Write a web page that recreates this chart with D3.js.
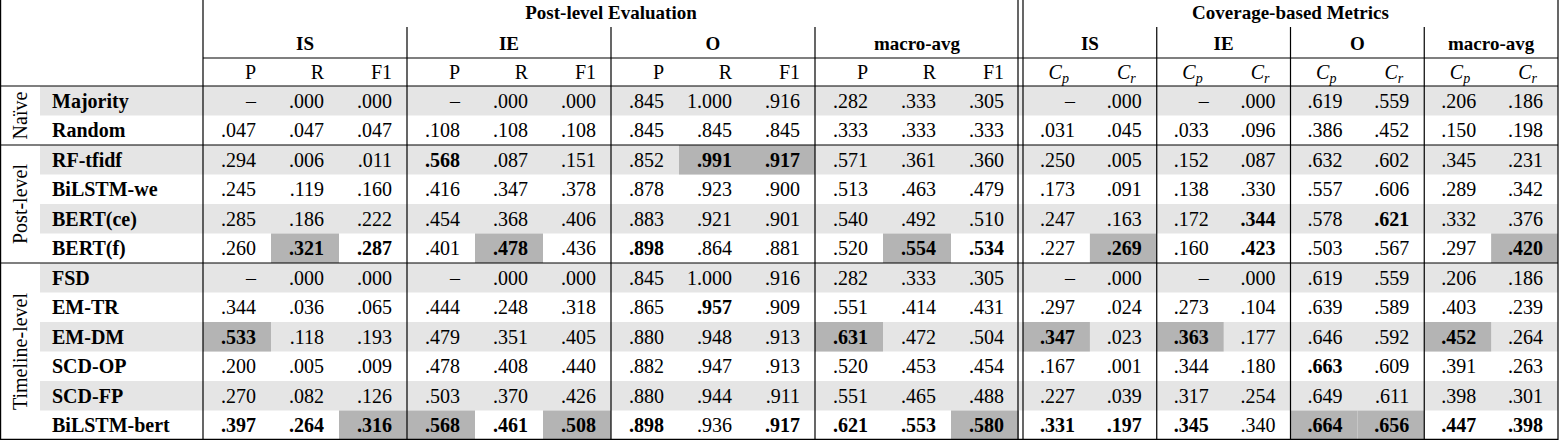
<!DOCTYPE html><html><head><meta charset="utf-8">
<script src="https://cdn.jsdelivr.net/npm/d3@7"></script>
<style>body{margin:0;background:#fff}</style></head><body>
<svg id="c" width="1564" height="440" font-family="Liberation Serif, Times New Roman, Tinos, DejaVu Serif, serif"></svg>
<script>
const groups = [{name:"Naïve",start:0,n:2},{name:"Post-level",start:2,n:4},{name:"Timeline-level",start:6,n:6}];
const models = ["Majority","Random","RF-tfidf","BiLSTM-we","BERT(ce)","BERT(f)","FSD","EM-TR","EM-DM","SCD-OP","SCD-FP","BiLSTM-bert"];
const postGroups = ["IS","IE","O","macro-avg"];
const postMetrics = ["P","R","F1"];
const covGroups = ["IS","IE","O","macro-avg"];
const covMetrics = ["p","r"];
// "*" = bold, "#" = bold + shaded
const postValues = [
 ["–",".000",".000","–",".000",".000",".845","1.000",".916",".282",".333",".305"],
 [".047",".047",".047",".108",".108",".108",".845",".845",".845",".333",".333",".333"],
 [".294",".006",".011","*.568",".087",".151",".852","#.991","#.917",".571",".361",".360"],
 [".245",".119",".160",".416",".347",".378",".878",".923",".900",".513",".463",".479"],
 [".285",".186",".222",".454",".368",".406",".883",".921",".901",".540",".492",".510"],
 [".260","#.321","*.287",".401","#.478",".436","*.898",".864",".881",".520","#.554","*.534"],
 ["–",".000",".000","–",".000",".000",".845","1.000",".916",".282",".333",".305"],
 [".344",".036",".065",".444",".248",".318",".865","*.957",".909",".551",".414",".431"],
 ["#.533",".118",".193",".479",".351",".405",".880",".948",".913","#.631",".472",".504"],
 [".200",".005",".009",".478",".408",".440",".882",".947",".913",".520",".453",".454"],
 [".270",".082",".126",".503",".370",".426",".880",".944",".911",".551",".465",".488"],
 ["*.397","*.264","#.316","#.568","*.461","#.508","*.898",".936","*.917","*.621","*.553","#.580"]
];
const covValues = [
 ["–",".000","–",".000",".619",".559",".206",".186"],
 [".031",".045",".033",".096",".386",".452",".150",".198"],
 [".250",".005",".152",".087",".632",".602",".345",".231"],
 [".173",".091",".138",".330",".557",".606",".289",".342"],
 [".247",".163",".172","*.344",".578","*.621",".332",".376"],
 [".227","#.269",".160","*.423",".503",".567",".297","#.420"],
 ["–",".000","–",".000",".619",".559",".206",".186"],
 [".297",".024",".273",".104",".639",".589",".403",".239"],
 ["#.347",".023","#.363",".177",".646",".592","#.452",".264"],
 [".167",".001",".344",".180","*.663",".609",".391",".263"],
 [".227",".039",".317",".254",".649",".611",".398",".301"],
 ["*.331","*.197","*.345",".340","#.664","#.656","*.447","*.398"]
];
const svg = d3.select("#c");
const y = d3.scaleLinear().domain([0,12]).range([86,440]);
const xPost = d3.scaleLinear().domain([0,12]).range([203,1019]);
const xCov = d3.scaleLinear().domain([0,8]).range([1023,1558]);
const pad = 15, fs = 20;
models.forEach((m,i)=>{
  const g = groups.find(g=>i>=g.start&&i<g.start+g.n);
  if((i-g.start)%2===0) svg.append("rect").attr("x",40).attr("y",y(i)).attr("width",1558-40).attr("height",y(i+1)-y(i)).attr("fill","#e5e5e5");
});
function cells(vals,x,i){
  vals.forEach((v,j)=>{
    let bold=false,shade=false;
    if(v[0]==="*"){bold=true;v=v.slice(1);} else if(v[0]==="#"){bold=shade=true;v=v.slice(1);}
    if(shade) svg.append("rect").attr("x",x(j)).attr("y",y(i)).attr("width",x(j+1)-x(j)).attr("height",y(i+1)-y(i)).attr("fill","#b4b4b4");
    svg.append("text").attr("x",x(j+1)-pad).attr("y",(y(i)+y(i+1))/2+7).attr("text-anchor","end")
      .attr("font-size",fs).attr("font-weight",bold?"bold":"normal").text(v);
  });
}
models.forEach((m,i)=>{
  svg.append("text").attr("x",52).attr("y",(y(i)+y(i+1))/2+7).attr("font-size",fs).attr("font-weight","bold").text(m);
  cells(postValues[i],xPost,i); cells(covValues[i],xCov,i);
});
groups.forEach(g=>{
  const cy=(y(g.start)+y(g.start+g.n))/2;
  svg.append("text").attr("transform",`translate(27,${cy}) rotate(-90)`).attr("text-anchor","middle").attr("font-size",fs).text(g.name);
});
const hb = (x,yy,t)=>svg.append("text").attr("x",x).attr("y",yy).attr("text-anchor","middle").attr("font-size",19).attr("font-weight","bold").text(t);
hb((xPost(0)+xPost(12))/2,19,"Post-level Evaluation");
hb((xCov(0)+xCov(8))/2,19,"Coverage-based Metrics");
postGroups.forEach((g,k)=>hb((xPost(3*k)+xPost(3*k+3))/2,50,g));
covGroups.forEach((g,k)=>hb((xCov(2*k)+xCov(2*k+2))/2,50,g));
for(let j=0;j<12;j++) svg.append("text").attr("x",xPost(j+1)-pad).attr("y",79).attr("text-anchor","end").attr("font-size",fs).text(postMetrics[j%3]);
for(let j=0;j<8;j++){const t=svg.append("text").attr("x",xCov(j+1)-pad-6).attr("y",79).attr("text-anchor","end").attr("font-size",fs);
  t.append("tspan").attr("font-style","italic").text("C");
  t.append("tspan").attr("font-style","italic").attr("font-size",14).attr("dy",4).text(covMetrics[j%2]);}
const L=(x1,y1,x2,y2)=>svg.append("line").attr("x1",x1).attr("y1",y1).attr("x2",x2).attr("y2",y2).attr("stroke","#000").attr("stroke-width",1.2);
L(203,58,1558,58); L(0,86,1558,86); L(0,y(2),1558,y(2)); L(0,y(6),1558,y(6)); L(0,439.4,1558,439.4);
L(0.6,0,0.6,440); L(203,0,203,440); L(1018,0,1018,440); L(1023,0,1023,440); L(1558,0,1558,440);
[1,2,3].forEach(k=>L(xPost(3*k),27,xPost(3*k),440));
[1,2,3].forEach(k=>L(xCov(2*k),27,xCov(2*k),440));
</script></body></html>
